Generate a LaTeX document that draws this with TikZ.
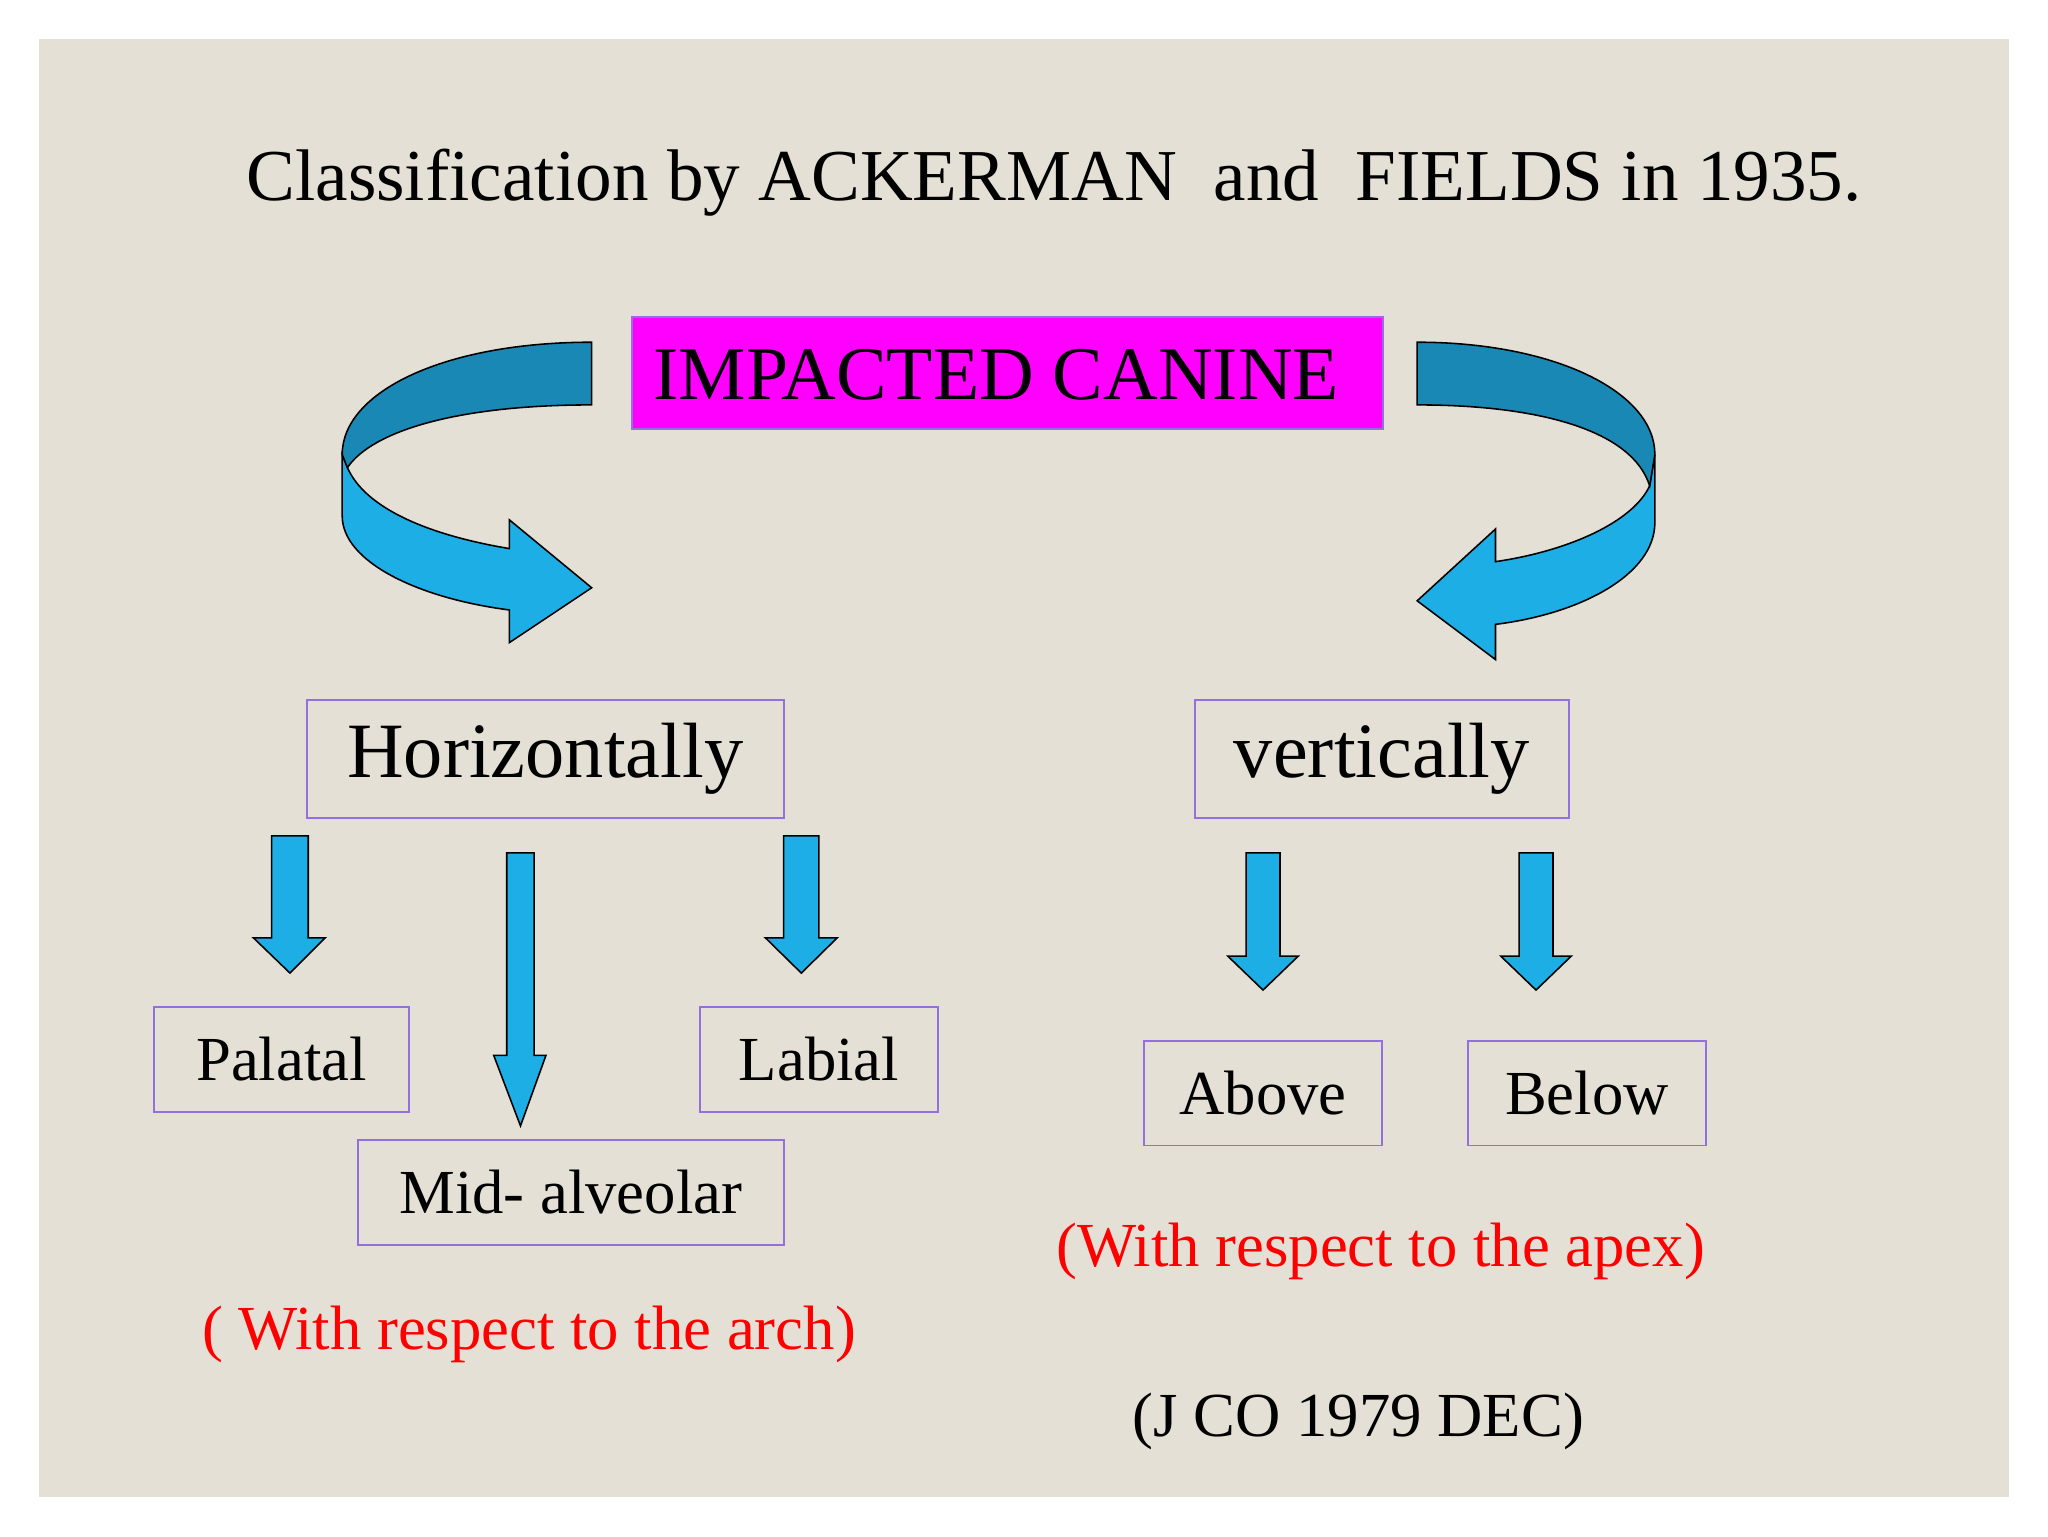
\documentclass[tikz,border=0pt]{standalone}
\usepackage{fontspec}
\setmainfont{Liberation Serif}
\definecolor{bg}{HTML}{E5E0D5}
\definecolor{boxc}{HTML}{9370DB}
\definecolor{arr}{HTML}{1EAEE6}
\definecolor{arrd}{HTML}{1A88B5}
\definecolor{mag}{HTML}{FF00FF}
\begin{document}
\begin{tikzpicture}[x=1pt,y=-1pt,
  lbox/.style={draw=boxc,line width=1.5pt,minimum height=80pt,inner sep=0pt,font=\fontsize{48}{50}\selectfont},
  blk/.style={fill=arr,draw=black,line width=1.2pt,line join=miter},
  redt/.style={text=red,font=\fontsize{48}{50}\selectfont}]
\useasboundingbox (0,0) rectangle (1568,1176);
\fill[white] (0,0) rectangle (1568,1176);
\fill[bg] (30,30) rectangle (1538,1146);
\node (title) at (807,140) {\fontsize{56}{60}\selectfont Classification by ACKERMAN\ \ and\ \ FIELDS in 1935.};
\node[draw=boxc,line width=1.5pt,fill=mag,minimum width=575pt,minimum height=86pt,inner sep=0pt,anchor=north west] (imp) at (483,242) {};
\node[anchor=west,font=\fontsize{58}{60}\selectfont] (impt) at (497,287) {IMPACTED CANINE};
\node[lbox,minimum width=365pt,minimum height=90pt,font=\fontsize{60}{62}\selectfont] (hor) at (417.5,581) {Horizontally};
\node[lbox,minimum width=286pt,minimum height=90pt,font=\fontsize{60}{62}\selectfont] (ver) at (1058,581) {vertically};
\node[lbox,minimum width=195pt] (pal) at (215.5,811) {Palatal};
\node[lbox,minimum width=182pt] (lab) at (627,811) {Labial};
\node[lbox,minimum width=326pt] (mid) at (437,913) {Mid- alveolar};
\node[lbox,minimum width=182pt] (abo) at (967,837) {Above};
\node[lbox,minimum width=182pt] (bel) at (1215,837) {Below};
\node[redt] (r1) at (405,1022) {( With respect to the arch)};
\node[redt] (r2) at (1057,958) {(With respect to the apex)};
\node[font=\fontsize{48}{50}\selectfont] (jco) at (1040,1088) {(J CO 1979 DEC)};
% down arrows
\draw[blk] (208,640)--(236,640)--(236,718)--(249,718)--(222,745)--(194,718)--(208,718)--cycle;
\draw[blk] (388,653)--(409,653)--(409,808)--(418,808)--(398.5,862)--(378,808)--(388,808)--cycle;
\draw[blk] (600,640)--(627,640)--(627,718)--(641,718)--(613.5,745)--(586,718)--(600,718)--cycle;
\draw[blk] (954,653)--(980,653)--(980,732)--(994,732)--(967,758)--(940,732)--(954,732)--cycle;
\draw[blk] (1163,653)--(1189,653)--(1189,732)--(1203,732)--(1176,758)--(1149,732)--(1163,732)--cycle;
% left curved arrow
\draw[blk] (262,348) -- (262,395) .. controls (262,430) and (320,458) .. (390,467) -- (390,492) -- (453,450) -- (390,398) -- (390,420) .. controls (330,410) and (280,390) .. (266,358) -- cycle;
\draw[blk,fill=arrd] (453,262) -- (453,310) .. controls (350,310) and (285,330) .. (266,358) -- (262,348) .. controls (262,300) and (340,262) .. (453,262) -- cycle;
% right curved arrow
\draw[blk] (1267,348) -- (1267,400) .. controls (1267,440) and (1210,470) .. (1145,478) -- (1145,505) -- (1085,460) -- (1145,405) -- (1145,430) .. controls (1200,422) and (1250,400) .. (1263,372) -- cycle;
\draw[blk,fill=arrd] (1085,262) -- (1085,310) .. controls (1180,310) and (1250,330) .. (1263,372) -- (1267,348) .. controls (1267,300) and (1190,262) .. (1085,262) -- cycle;
\end{tikzpicture}
\end{document}
